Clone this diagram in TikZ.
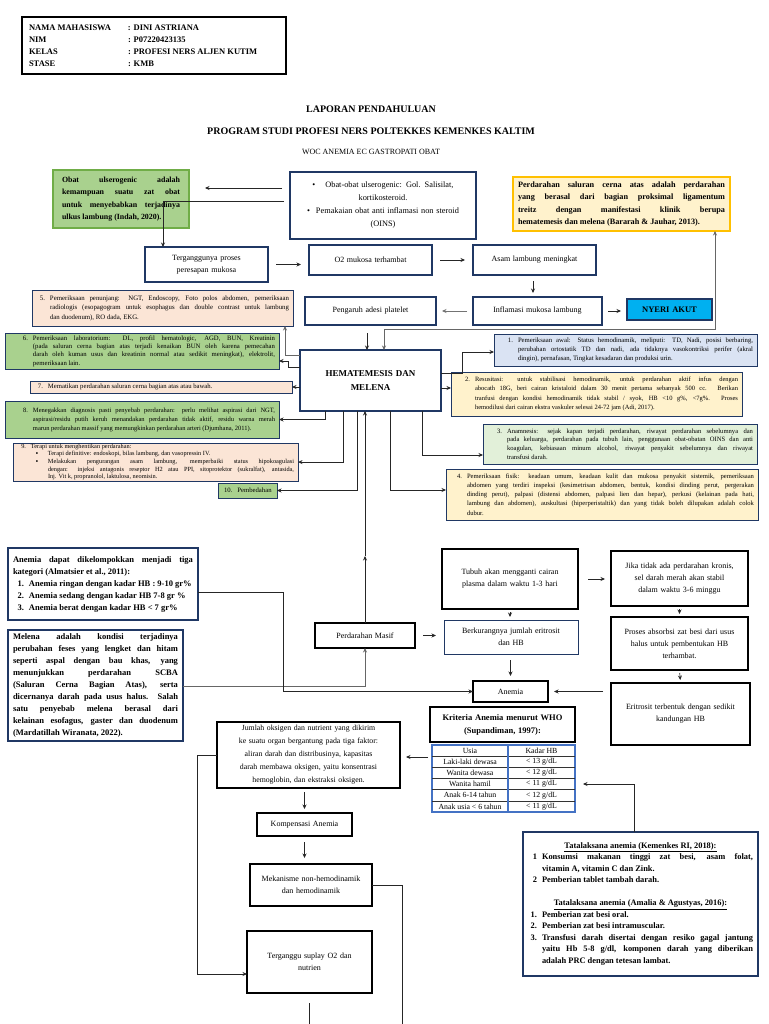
\documentclass[tikz,border=0pt]{standalone}
\usepackage{fontspec}
\setmainfont{Liberation Serif}
\usetikzlibrary{calc,arrows.meta}
\definecolor{navy}{HTML}{203864}
\definecolor{peach}{HTML}{FBE5D6}
\definecolor{grn}{HTML}{A9D18E}
\definecolor{grnb}{HTML}{70AD47}
\definecolor{lblue}{HTML}{DAE3F3}
\definecolor{ylw}{HTML}{FFF2CC}
\definecolor{lgrn}{HTML}{E2F0D9}
\definecolor{gold}{HTML}{FFC000}
\definecolor{nyeri}{HTML}{00B0F0}
\definecolor{tblblue}{HTML}{4472C4}
\newcommand{\numit}[3]{\leftskip=#1\noindent\llap{#2\hspace{5pt}}#3\par}
\begin{document}
\begin{tikzpicture}[x=1pt,y=-1pt,
  every node/.style={outer sep=0pt},
  arr/.style={-{Stealth[length=4.5pt,width=4pt]}, line width=0.7pt, draw=black!85},
  arrb/.style={{Stealth[length=4.5pt,width=4pt]}-{Stealth[length=4.5pt,width=4pt]}, line width=0.7pt, draw=black!85},
  ln/.style={line width=0.7pt, draw=black!85},
  pbox/.style={draw=black, line width=1.1pt, fill=white, align=center, anchor=north west, inner xsep=3pt, inner ysep=1pt, font=\fontsize{8}{12}\selectfont},
  nbox/.style={pbox, draw=navy, line width=1.3pt},
  sbox/.style={draw=navy, line width=0.9pt, align=justify, anchor=north west, inner xsep=4pt, inner ysep=1pt, font=\fontsize{6.7}{8.8}\selectfont},
  bbox/.style={draw=navy, line width=1.2pt, fill=white, align=justify, anchor=north west, inner xsep=5pt, inner ysep=1pt, font=\bfseries\fontsize{8.5}{12}\selectfont},
]
\useasboundingbox (0,0) rectangle (768,1024);
\fill[white] (0,0) rectangle (768,1024);

% ---------- header ----------
\node[draw=black, line width=1.1pt, minimum width=264, minimum height=57, anchor=north west, inner sep=0] (hdr) at (22,17) {};
\node[anchor=north west, inner sep=0, font=\bfseries\fontsize{8.5}{12}\selectfont] (hdrtxt) at (29,22)
 {\begin{tabular}{@{}p{99pt}@{}l@{}}NAMA MAHASISWA & : DINI ASTRIANA\\ NIM & : P07220423135\\ KELAS & : PROFESI NERS ALJEN KUTIM\\ STASE & : KMB\end{tabular}};

\node[font=\bfseries\fontsize{10}{12}\selectfont] (t1) at (371,109) {LAPORAN PENDAHULUAN};
\node[font=\bfseries\fontsize{10}{12}\selectfont] (t2) at (371,131) {PROGRAM STUDI PROFESI NERS POLTEKKES KEMENKES KALTIM};
\node[font=\fontsize{8}{10}\selectfont] (t3) at (371,152) {WOC ANEMIA EC GASTROPATI OBAT};

% ---------- top row ----------
\node[draw=grnb, line width=1.2pt, fill=grn, anchor=north west, minimum width=136, minimum height=58, text width=118pt, inner xsep=9pt, align=justify, font=\bfseries\fontsize{7.9}{12.5}\selectfont] (green) at (53,170)
 {Obat ulserogenic adalah\linebreak kemampuan suatu zat obat\linebreak untuk menyebabkan terjadinya\linebreak ulkus lambung (Indah, 2020).};
\node[nbox, minimum width=186, minimum height=67, text width=178pt, font=\fontsize{8.3}{13}\selectfont] (obat) at (290,172)
 {\textbullet\hspace{10pt}Obat-obat ulserogenic: Gol. Salisilat,\\ kortikosteroid.\\ \textbullet\hspace{6pt}Pemakaian obat anti inflamasi non steroid\\ (OINS)};
\node[draw=gold, line width=1.5pt, fill=ylw, anchor=north west, minimum width=217, minimum height=54, text width=207pt, inner xsep=5pt, align=justify, font=\bfseries\fontsize{8.2}{12.5}\selectfont] (yellow) at (513,177)
 {Perdarahan saluran cerna atas adalah perdarahan\linebreak yang berasal dari bagian proksimal ligamentum\linebreak treitz dengan manifestasi klinik berupa\linebreak hematemesis dan melena (Bararah \& Jauhar, 2013).};

% ---------- row 2/3 ----------
\node[nbox, minimum width=123, minimum height=35, text width=117pt] (terg) at (145,247) {Terganggunya proses\\ peresapan mukosa};
\node[nbox, minimum width=123, minimum height=30, text width=117pt] (o2) at (309,245) {O2 mukosa terhambat};
\node[nbox, minimum width=123, minimum height=30, text width=117pt] (asam) at (473,245) {Asam lambung meningkat};
\node[nbox, minimum width=131, minimum height=28, text width=125pt] (pengaruh) at (305,297) {Pengaruh adesi platelet};
\node[nbox, minimum width=129, minimum height=28, text width=123pt] (inflam) at (473,297) {Inflamasi mukosa lambung};
\node[nbox, fill=nyeri, minimum width=85, minimum height=21, text width=79pt, font=\bfseries\fontsize{8.5}{10}\selectfont] (nyeri) at (627,299) {NYERI AKUT};

% ---------- HEMATEMESIS ----------
\node[nbox, line width=1.6pt, minimum width=141, minimum height=61, text width=135pt, font=\bfseries\fontsize{9}{14}\selectfont] (hema) at (300,350) {HEMATEMESIS DAN\\ MELENA};

% ---------- left small boxes ----------
\node[sbox, fill=peach, minimum width=261, minimum height=36, text width=253pt, font=\fontsize{6.8}{9.5}\selectfont] (b5) at (32,290)
 {\numit{14pt}{5.}{Pemeriksaan penunjang: NGT, Endoscopy, Foto polos abdomen, pemeriksaan\linebreak radiologis (esopagogram untuk esophagus dan double contrast untuk lambung\linebreak dan duodenum), RO dada, EKG.}};
\node[sbox, fill=grn, minimum width=274, minimum height=36, text width=266pt, font=\fontsize{6.7}{8.4}\selectfont] (b6) at (5,333)
 {\numit{24pt}{6.}{Pemeriksaan laboratorium: DL, profil hematologic, AGD, BUN, Kreatinin\linebreak (pada saluran cerna bagian atas terjadi kenaikan BUN oleh karena pemecahan\linebreak darah oleh kuman usus dan kreatinin normal atau sedikit meningkat), elektrolit,\linebreak pemeriksaan lain.}};
\node[sbox, fill=peach, minimum width=262, minimum height=12, text width=254pt, inner ysep=0pt] (b7) at (30,381)
 {\numit{14pt}{7.}{Mematikan perdarahan saluran cerna bagian atas atau bawah.}};
\node[sbox, fill=grn, minimum width=274, minimum height=37, text width=266pt, font=\fontsize{6.5}{9}\selectfont] (b8) at (5,401)
 {\numit{24pt}{8.}{Menegakkan diagnosis pasti penyebab perdarahan: perlu melihat aspirasi dari NGT,\linebreak aspirasi/residu putih keruh menandakan perdarahan tidak aktif, residu warna merah\linebreak marun perdarahan massif yang memungkinkan perdarahan arteri (Djumhana, 2011).}};
\node[sbox, fill=peach, minimum width=285, minimum height=38, text width=277pt, font=\fontsize{6.3}{7.6}\selectfont] (b9) at (13,443)
 {\numit{14pt}{9.}{Terapi untuk menghentikan perdarahan:}
  \numit{31pt}{▪\hspace{5pt}}{Terapi definitive: endoskopi, bilas lambung, dan vasopressin IV.}
  \numit{31pt}{▪\hspace{5pt}}{Melakukan pengurangan asam lambung, memperbaiki status hipokoagulasi\linebreak dengan: injeksi antagonis reseptor H2 atau PPI, sitoprotektor (sukralfat), antasida,\linebreak Inj. Vit k, propranolol, laktulosa, neomisin.}};
\node[sbox, fill=grn, minimum width=59, minimum height=15, text width=51pt, align=left] (b10) at (218,483)
 {\hspace{2pt}10.\hspace{5pt}Pembedahan};

% ---------- right small boxes ----------
\node[sbox, fill=lblue, minimum width=263, minimum height=32, text width=255pt, font=\fontsize{6.7}{9}\selectfont] (b1) at (494,334)
 {\numit{20pt}{1.}{Pemeriksaan awal: Status hemodinamik, meliputi: TD, Nadi, posisi berbaring,\linebreak perubahan ortostatik TD dan nadi, ada tidaknya vasokontriksi perifer (akral\linebreak dingin), pernafasan, Tingkat kesadaran dan produksi urin.}};
\node[sbox, fill=ylw, minimum width=291, minimum height=44, text width=283pt, font=\fontsize{6.5}{9.4}\selectfont] (b2) at (451,372)
 {\numit{20pt}{2.}{Resusitasi: untuk stabilisasi hemodinamik, untuk perdarahan aktif infus dengan\linebreak abocath 18G, beri cairan kristaloid dalam 30 menit pertama sebanyak 500 cc. Berikan\linebreak tranfusi dengan kondisi hemodinamik tidak stabil / syok, HB <10 g\%, <7g\%. Proses\linebreak hemodilusi dari cairan ekstra vaskuler selesai 24-72 jam (Adi, 2017).}};
\node[sbox, fill=lgrn, minimum width=274, minimum height=40, text width=266pt, font=\fontsize{6.6}{8.8}\selectfont] (b3) at (483,424)
 {\numit{20pt}{3.}{Anamnesis: sejak kapan terjadi perdarahan, riwayat perdarahan sebelumnya dan\linebreak pada keluarga, perdarahan pada tubuh lain, penggunaan obat-obatan OINS dan anti\linebreak koagulan, kebiasaan minum alcohol, riwayat penyakit sebelumnya dan riwayat\linebreak transfusi darah.}};
\node[sbox, fill=ylw, minimum width=312, minimum height=51, text width=304pt, font=\fontsize{6.6}{9.2}\selectfont] (b4) at (446,469)
 {\numit{17pt}{4.}{Pemeriksaan fisik: keadaan umum, keadaan kulit dan mukosa penyakit sistemik, pemeriksaan\linebreak abdomen yang terdiri inspeksi (kesimetrisan abdomen, bentuk, kondisi dinding perut, pergerakan\linebreak dinding perut), palpasi (distensi abdomen, palpasi lien dan hepar), perkusi (kelainan pada hati,\linebreak lambung dan abdomen), auskultasi (hiperperistaltik) dan yang tidak boleh dilupakan adalah colok\linebreak dubur.}};

% ---------- lower left text boxes ----------
\node[bbox, minimum width=190, minimum height=72, text width=180pt] (ancls) at (8,548)
 {\noindent Anemia dapat dikelompokkan menjadi tiga\linebreak kategori (Almatsier et al., 2011):\par
  \numit{16pt}{1.}{Anemia ringan dengan kadar HB : 9-10 gr\%}
  \numit{16pt}{2.}{Anemia sedang dengan kadar HB 7-8 gr \%}
  \numit{16pt}{3.}{Anemia berat dengan kadar HB < 7 gr\%}};
\node[bbox, minimum width=175, minimum height=111, text width=165pt] (melena) at (8,630)
 {\noindent Melena adalah kondisi terjadinya\linebreak perubahan feses yang lengket dan hitam\linebreak seperti aspal dengan bau khas, yang\linebreak menunjukkan perdarahan SCBA\linebreak (Saluran Cerna Bagian Atas), serta\linebreak dicernanya darah pada usus halus. Salah\linebreak satu penyebab melena berasal dari\linebreak kelainan esofagus, gaster dan duodenum\linebreak (Mardatillah Wiranata, 2022).};

% ---------- lower middle/right ----------
\node[pbox, line width=1.6pt, minimum width=100, minimum height=25, text width=94pt] (masif) at (315,623) {Perdarahan Masif};
\node[pbox, minimum width=136, minimum height=60, text width=130pt] (tubuh) at (442,549) {Tubuh akan mengganti cairan\\ plasma dalam waktu 1-3 hari};
\node[pbox, line width=1.6pt, minimum width=137, minimum height=55, text width=131pt] (jika) at (611,551) {Jika tidak ada perdarahan kronis,\\ sel darah merah akan stabil\\ dalam waktu 3-6 minggu};
\node[pbox, draw=navy, line width=0.9pt, minimum width=134, minimum height=34, text width=128pt] (berk) at (444,620) {Berkurangnya jumlah eritrosit\\ dan HB};
\node[pbox, minimum width=137, minimum height=53, text width=131pt] (proses) at (611,617) {Proses absorbsi zat besi dari usus\\ halus untuk pembentukan HB\\ terhambat.};
\node[pbox, line width=1.6pt, minimum width=75, minimum height=21, text width=69pt] (anemia) at (473,681) {Anemia};
\node[pbox, minimum width=139, minimum height=62, text width=133pt] (eritro) at (611,683) {Eritrosit terbentuk dengan sedikit\\ kandungan HB};
\node[pbox, line width=1.6pt, minimum width=145, minimum height=35, text width=139pt, font=\bfseries\fontsize{8.5}{13}\selectfont] (krit) at (430,707) {Kriteria Anemia menurut WHO\\ (Supandiman, 1997):};

% table
\node[draw=tblblue, line width=1.1pt, anchor=north west, minimum width=143, minimum height=67, inner sep=0] (tbl) at (432,745) {};
\foreach \i in {1,...,5} {
  \draw[black!80, line width=0.6pt] ($(tbl.north west)+(0,11.17*\i)$) -- ($(tbl.north east)+(0,11.17*\i)$);
}
\draw[tblblue, line width=1.1pt] ($(tbl.north west)+(76,0)$) -- ($(tbl.south west)+(76,0)$);
\foreach \i/\a/\b in {0/{Usia}/{Kadar HB}, 1/{Laki-laki dewasa}/{< 13 g/dL}, 2/{Wanita dewasa}/{< 12 g/dL}, 3/{Wanita hamil}/{< 11 g/dL}, 4/{Anak 6-14 tahun}/{< 12 g/dL}, 5/{Anak usia < 6 tahun}/{< 11 g/dL}} {
  \node[font=\fontsize{7.8}{9}\selectfont, inner sep=0] (ca\i) at ($(tbl.north west)+(38,5.6+11.17*\i)$) {\a};
  \node[font=\fontsize{7.8}{9}\selectfont, inner sep=0] (cb\i) at ($(tbl.north west)+(109.5,5.6+11.17*\i)$) {\b};
}

\node[pbox, minimum width=183, minimum height=66, text width=177pt, font=\fontsize{7.8}{13}\selectfont] (jumlah) at (217,722)
 {Jumlah oksigen dan nutrient yang dikirim\\ ke suatu organ bergantung pada tiga faktor:\\ aliran darah dan distribusinya, kapasitas\\ darah membawa oksigen, yaitu konsentrasi\\ hemoglobin, dan ekstraksi oksigen.};
\node[pbox, minimum width=95, minimum height=23, text width=89pt] (komp) at (257,813) {Kompensasi Anemia};
\node[pbox, minimum width=122, minimum height=42, text width=116pt] (mek) at (250,864) {Mekanisme non-hemodinamik\\ dan hemodinamik};
\node[pbox, line width=1.5pt, minimum width=125, minimum height=62, text width=119pt] (suplay) at (247,931) {Terganggu suplay O2 dan\\ nutrien\\[14pt]};

\node[bbox, line width=1.3pt, minimum width=235, minimum height=144, text width=225pt, font=\bfseries\fontsize{8.4}{11.5}\selectfont] (tata) at (523,832)
 {{\centering\underline{Tatalaksana anemia (Kemenkes RI, 2018):}\par}
  \numit{14pt}{1}{Konsumsi makanan tinggi zat besi, asam folat,\linebreak vitamin A, vitamin C dan Zink.}
  \numit{14pt}{2}{Pemberian tablet tambah darah.}
  \vspace{11.5pt}
  {\leftskip=0pt\centering\underline{Tatalaksana anemia (Amalia \& Agustyas, 2016):}\par}
  \numit{14pt}{1.}{Pemberian zat besi oral.}
  \numit{14pt}{2.}{Pemberian zat besi intramuscular.}
  \numit{14pt}{3.}{Transfusi darah disertai dengan resiko gagal jantung\linebreak yaitu Hb 5-8 g/dl, komponen darah yang diberikan\linebreak adalah PRC dengan tetesan lambat.}};

% ---------- connectors: top ----------
\draw[arr, shorten <=8pt, shorten >=16pt] ($(obat.north west)+(0,16)$) -- ($(green.north east)+(0,18)$);
\draw[arr, shorten <=6pt] ($(obat.north west)+(0,29)$) -| ($(terg.north west)+(18,0)$);
\draw[arr, shorten <=8pt, shorten >=8pt] (terg.east) -- (terg.east -| o2.west);
\draw[arr, shorten <=8pt, shorten >=8pt] (o2.east) -- (o2.east -| asam.west);
\draw[arr, shorten <=6pt, shorten >=4pt] ($(asam.south west)+(60,0)$) -- ($(inflam.north west)+(60,0)$);
\draw[arr, shorten <=6pt, shorten >=6pt] (inflam.east) -- (inflam.east -| nyeri.west);
\draw[arr, draw=black!55, shorten <=6pt, shorten >=6pt] (inflam.west) -- (inflam.west -| pengaruh.east);
\draw[arr, shorten <=8pt] ($(pengaruh.south west)+(62,0)$) -- ($(hema.north west)+(67,0)$);
\coordinate (ycorner) at ($(yellow.south west)+(202,98)$);
\draw[arrb, draw=black!60] ($(hema.north west)+(84,0)$) |- (ycorner) -- (ycorner |- yellow.south);

% ---------- connectors: hema to left boxes ----------
\draw[arr, draw=black!60] ($(hema.north west)+(0,5)$) -| ($(b5.south west)+(253,0)$);
\draw[arr] ($(hema.north west)+(0,17)$) -- ++(-12,0) |- ($(b6.north east)+(0,28)$);
\draw[arr] (hema.west |- b7.east) -- (b7.east);
\draw[arr] ($(hema.south west)+(25,0)$) |- (b8.east);
\draw[arr] ($(hema.south west)+(43,0)$) |- (b9.east);
\draw[arr] ($(hema.south west)+(57,0)$) |- (b10.east);

% ---------- connectors: hema to right boxes ----------
\draw[arr] ($(hema.north east)+(0,23)$) -- ++(21,0) |- ($(b1.north west)+(0,18)$);
\draw[arr] ($(hema.north east)+(0,38)$) -- ($(b2.north west)+(0,16)$);
\draw[arr] ($(hema.south west)+(122,0)$) |- ($(b3.north west)+(0,31)$);
\draw[arr] ($(hema.south west)+(90,0)$) |- ($(b4.north west)+(0,21)$);

% ---------- connectors: lower ----------
\draw[arr] (masif.north) -- ++(0,-67);
\draw[arr] ($(masif.north)+(0,-67)$) -- (masif.north |- hema.south);
\draw[arr, draw=black!60] ($(melena.north east)+(0,56)$) -| (masif.south);
\draw[arr] ($(ancls.north east)+(0,44)$) -| ($(anemia.west)+(-190,0)$) -- (anemia.west);
\draw[arr, shorten <=8pt, shorten >=8pt] (masif.east) -- (masif.east -| berk.west);
\draw[arr, shorten <=3pt, shorten >=3pt] (tubuh.south) -- (tubuh.south |- berk.north);
\draw[arr, shorten <=10pt, shorten >=6pt] (tubuh.east) -- (tubuh.east -| jika.west);
\draw[arr, shorten <=3pt, shorten >=3pt] (jika.south) -- (proses.north);
\draw[arr, shorten <=3pt, shorten >=3pt] (proses.south) -- (eritro.north);
\draw[arr, shorten <=8pt, shorten >=6pt] (eritro.west |- anemia.east) -- (anemia.east);
\draw[arr, shorten <=6pt, shorten >=5pt] (berk.south -| anemia.north) -- (anemia.north);
\coordinate (tblA) at ($(tbl.north west)+(0,12)$);
\draw[arr, shorten <=4pt, shorten >=6pt] (tblA) -- (tblA -| jumlah.east);
\draw[arr, shorten <=4pt, shorten >=4pt] (komp.north |- jumlah.south) -- (komp.north);
\draw[arr, shorten <=6pt, shorten >=6pt] (komp.south) -- (komp.south |- mek.north);
\draw[ln] (mek.east) -- ++(30,0) -- ++(0,150);
\draw[arr] ($(jumlah.north west)+(0,33)$) -- ++(-20,0) |- ($(suplay.north west)+(0,43)$);
\draw[ln, shorten <=10pt] (suplay.south) -- ++(0,40);
\draw[arr] ($(tata.north west)+(111,0)$) |- ($(tbl.south east)+(8,-28)$);
\end{tikzpicture}
\end{document}
